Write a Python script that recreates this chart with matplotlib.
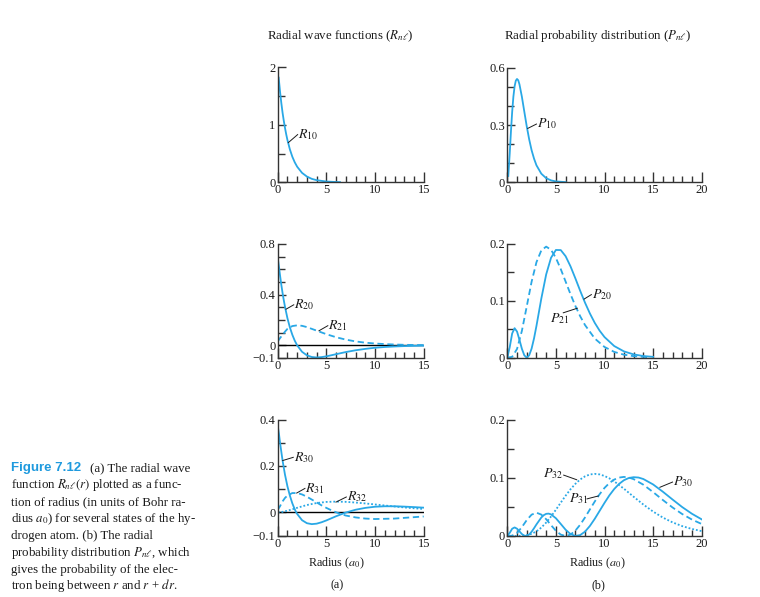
import matplotlib
matplotlib.use("Agg")
import matplotlib.pyplot as plt
from matplotlib.ticker import FixedLocator

plt.rcParams['font.family'] = ['Liberation Serif', 'DejaVu Serif']
plt.rcParams['mathtext.fontset'] = 'stix'

BLUE = '#29a8e6'
INK = '#1a1a1a'

# ---- data (radius in units of a0) ----
r10_r = [0.1, 0.25, 0.375, 0.5, 0.625, 0.75, 0.875, 1.0, 1.25, 1.5, 1.75, 2.0, 2.5, 3.0, 3.5, 4.0, 5.0, 6.0, 6.4]
r10_v = [1.82, 1.56, 1.375, 1.21, 1.07, 0.945, 0.834, 0.736, 0.573, 0.446, 0.348, 0.271, 0.164, 0.100, 0.060, 0.037, 0.013, 0.005, 0.003]

p10_r = [0.1, 0.25, 0.375, 0.5, 0.625, 0.75, 0.875, 1.0, 1.125, 1.25, 1.5, 1.75, 2.0, 2.25, 2.5, 2.75, 3.0, 3.5, 4.0, 4.5, 5.0, 6.0]
p10_v = [0.033, 0.152, 0.266, 0.368, 0.448, 0.502, 0.532, 0.541, 0.534, 0.513, 0.448, 0.370, 0.293, 0.225, 0.168, 0.124, 0.089, 0.045, 0.0215, 0.010, 0.0045, 0.001]

r20_r = [0.05, 0.125, 0.25, 0.375, 0.5, 0.625, 0.75, 1.0, 1.25, 1.5, 1.75, 2.0, 2.5, 3.0, 3.5, 4.0, 4.5, 5.0, 6.0, 7.0, 8.0, 9.0, 10.0, 11.0, 12.0, 13.0, 14.0, 15.0]
r20_v = [0.665, 0.623, 0.546, 0.476, 0.413, 0.356, 0.304, 0.214, 0.142, 0.084, 0.037, 0.0, -0.051, -0.079, -0.092, -0.096, -0.093, -0.087, -0.070, -0.053, -0.039, -0.028, -0.019, -0.013, -0.009, -0.006, -0.004, -0.0025]

r21_r = [0.0, 0.25, 0.5, 0.75, 1.0, 1.5, 2.0, 2.5, 3.0, 4.0, 5.0, 6.0, 7.0, 8.0, 9.0, 10.0, 11.0, 12.0, 13.0, 14.0, 15.0]
r21_v = [0.03, 0.058, 0.083, 0.108, 0.130, 0.152, 0.158, 0.154, 0.144, 0.116, 0.088, 0.064, 0.045, 0.031, 0.021, 0.0145, 0.0097, 0.0064, 0.0042, 0.0027, 0.0018]

p20_r = [0.0, 0.25, 0.5, 0.75, 1.0, 1.25, 1.5, 1.75, 2.0, 2.25, 2.5, 2.75, 3.0, 3.5, 4.0, 4.5, 5.0, 5.5, 6.0, 6.5, 7.0, 7.5, 8.0, 8.5, 9.0, 9.5, 10.0, 11.0, 12.0, 13.0, 14.0, 15.0]
p20_v = [0.0, 0.0186, 0.0426, 0.0519, 0.0460, 0.0315, 0.0157, 0.0042, 0.0, 0.0042, 0.0160, 0.034, 0.0560, 0.1040, 0.1465, 0.1758, 0.1895, 0.1893, 0.1785, 0.1608, 0.1397, 0.1176, 0.0966, 0.0777, 0.0612, 0.0475, 0.0363, 0.0205, 0.0111, 0.0058, 0.0029, 0.0015]

p21_r = [0.0, 0.5, 1.0, 1.5, 2.0, 2.5, 3.0, 3.5, 4.0, 4.5, 5.0, 5.5, 6.0, 6.5, 7.0, 7.5, 8.0, 9.0, 10.0, 11.0, 12.0, 13.0, 14.5]
p21_v = [0.0, 0.0016, 0.0153, 0.0471, 0.0902, 0.1336, 0.1680, 0.1888, 0.1954, 0.1898, 0.1755, 0.1558, 0.1339, 0.1118, 0.0912, 0.0729, 0.0573, 0.0337, 0.0189, 0.0102, 0.0053, 0.0027, 0.0009]

r30_r = [0.05, 0.125, 0.25, 0.5, 0.75, 1.0, 1.25, 1.5, 1.75, 1.9, 2.0, 2.5, 3.0, 3.5, 4.0, 4.5, 5.0, 5.5, 6.0, 6.5, 7.0, 7.5, 8.0, 9.0, 10.0, 11.0, 12.0, 13.0, 14.0, 15.0]
r30_v = [0.36, 0.339, 0.297, 0.223, 0.162, 0.112, 0.072, 0.039, 0.013, 0.0, -0.007, -0.034, -0.047, -0.051, -0.049, -0.043, -0.035, -0.026, -0.017, -0.009, -0.001, 0.005, 0.011, 0.019, 0.024, 0.026, 0.026, 0.0245, 0.0224, 0.020]

r31_r = [0.0, 0.25, 0.5, 0.75, 1.0, 1.5, 2.0, 2.5, 3.0, 3.5, 4.0, 4.5, 5.0, 5.5, 6.0, 6.5, 7.0, 8.0, 9.0, 10.0, 11.0, 12.0, 13.0, 14.0, 15.0]
r31_v = [0.01, 0.027, 0.047, 0.062, 0.072, 0.083, 0.083, 0.077, 0.067, 0.055, 0.0425, 0.030, 0.019, 0.009, 0.0, -0.0075, -0.014, -0.022, -0.027, -0.029, -0.028, -0.027, -0.024, -0.021, -0.018]

r32_r = [0.0, 0.5, 1.0, 1.5, 2.0, 3.0, 4.0, 5.0, 6.0, 7.0, 8.0, 9.0, 10.0, 11.0, 12.0, 13.0, 14.0, 15.0]
r32_v = [0.0, 0.002, 0.0068, 0.0129, 0.0194, 0.0314, 0.0399, 0.0447, 0.0461, 0.0450, 0.0421, 0.0382, 0.0338, 0.0293, 0.0250, 0.0210, 0.0174, 0.0144]

p30_r = [0.0, 0.25, 0.5, 0.75, 1.0, 1.25, 1.5, 1.75, 2.0, 2.25, 2.5, 2.75, 3.0, 3.5, 3.75, 4.0, 4.25, 4.5, 5.0, 5.5, 6.0, 6.5, 7.0, 7.5, 8.0, 8.5, 9.0, 9.5, 10.0, 10.5, 11.0, 11.5, 12.0, 12.5, 13.0, 13.5, 14.0, 15.0, 16.0, 17.0, 18.0, 19.0, 20.0]
p30_v = [0.0, 0.0055, 0.0125, 0.0148, 0.0126, 0.0080, 0.0034, 0.0005, 0.0002, 0.0026, 0.0073, 0.0134, 0.0200, 0.0319, 0.0359, 0.0382, 0.0386, 0.0373, 0.0306, 0.0208, 0.0108, 0.0034, 0.0001, 0.0016, 0.0076, 0.0174, 0.0297, 0.0434, 0.0571, 0.0700, 0.0810, 0.0898, 0.0962, 0.1000, 0.1014, 0.1008, 0.0982, 0.0889, 0.0764, 0.0629, 0.0498, 0.0383, 0.0287]

p31_r = [0.0, 0.5, 1.0, 1.5, 2.0, 2.5, 3.0, 3.5, 4.0, 4.5, 5.0, 5.5, 6.0, 6.5, 7.0, 7.5, 8.0, 8.5, 9.0, 9.5, 10.0, 10.5, 11.0, 11.5, 12.0, 12.5, 13.0, 14.0, 15.0, 16.0, 17.0, 18.0, 19.0, 20.0]
p31_v = [0.0, 0.0006, 0.0052, 0.0153, 0.0274, 0.0368, 0.0402, 0.0369, 0.0289, 0.0187, 0.0090, 0.0024, 0.0, 0.0024, 0.0092, 0.0195, 0.0321, 0.0459, 0.0595, 0.0721, 0.0829, 0.0913, 0.0973, 0.1007, 0.1019, 0.1008, 0.0980, 0.0884, 0.0757, 0.0621, 0.0492, 0.0378, 0.0283, 0.0207]

p32_r = [0.0, 1.0, 2.0, 2.5, 3.0, 3.5, 4.0, 4.5, 5.0, 5.5, 6.0, 6.5, 7.0, 7.5, 8.0, 8.5, 9.0, 9.5, 10.0, 10.5, 11.0, 12.0, 13.0, 14.0, 15.0, 16.0, 17.0, 18.0, 19.0, 20.0]
p32_v = [0.0, 0.0, 0.0014, 0.0038, 0.0080, 0.0145, 0.0232, 0.0336, 0.0453, 0.0575, 0.0695, 0.0805, 0.0899, 0.0975, 0.1029, 0.1061, 0.1071, 0.1062, 0.1035, 0.0994, 0.0942, 0.0815, 0.0676, 0.0542, 0.0421, 0.0318, 0.0235, 0.0170, 0.0121, 0.0084]

# tick labels per panel
ticks_r1a = ([0, 1, 2], ['0', '1', '2'], [0.5, 1.5])
ticks_r1b = ([0, 0.3, 0.6], ['0', '0.3', '0.6'], [0.1, 0.2, 0.4, 0.5])
ticks_r2a = ([-0.1, 0, 0.4, 0.8], ['\u22120.1', '0', '0.4', '0.8'], [0.1, 0.2, 0.3, 0.5, 0.6, 0.7])
ticks_r2b = ([0, 0.1, 0.2], ['0', '0.1', '0.2'], [0.05, 0.15])
ticks_r3a = ([-0.1, 0, 0.2, 0.4], ['\u22120.1', '0', '0.2', '0.4'], [0.1, 0.3])
ticks_r3b = ([0, 0.1, 0.2], ['0', '0.1', '0.2'], [0.05, 0.15])

W, H = 760, 597
fig = plt.figure(figsize=(W / 100, H / 100), dpi=100)


def px_axes(x0, x1, ytop, ybot):
    return fig.add_axes([x0 / W, 1 - ybot / H, (x1 - x0) / W, (ybot - ytop) / H])


def style(ax, xmax, ylim, ticks):
    major, labels, minor = ticks
    ax.set_xlim(0, xmax)
    ax.set_ylim(*ylim)
    for s in ('top', 'right'):
        ax.spines[s].set_visible(False)
    for s in ('left', 'bottom'):
        ax.spines[s].set_linewidth(1.0)
        ax.spines[s].set_color('#333333')
    ax.set_xticks(list(range(0, xmax + 1, 5)))
    ax.set_xticklabels([str(v) for v in range(0, xmax + 1, 5)])
    ax.xaxis.set_minor_locator(FixedLocator(list(range(0, xmax + 1))))
    ax.set_yticks(major)
    ax.set_yticklabels(labels)
    ax.yaxis.set_minor_locator(FixedLocator(minor))
    ax.tick_params(which='both', direction='in', colors='#333333', width=1.0,
                   labelsize=9, labelcolor=INK)
    ax.tick_params(axis='x', which='major', length=7.5, pad=1.5)
    ax.tick_params(axis='x', which='minor', length=4.5)
    ax.tick_params(axis='y', which='major', length=6, pad=1.5)
    ax.tick_params(axis='y', which='minor', length=5)
    ax.patch.set_alpha(0)


def tag(ax, text, xy, xytext, ha='left'):
    ax.plot([xy[0], xytext[0]], [xy[1], xytext[1]], color=INK, lw=0.7)
    ax.text(xytext[0] + (0.05 if ha == 'left' else -0.05) * ax.get_xlim()[1] / 15,
            xytext[1], text, ha=ha, va='center', fontsize=10, color=INK)


DASH = (0, (3.5, 2))
DOT = (0, (1, 1.1))
LW = 1.3

AX0, AX1 = 277.7, 423.7
BX0, BX1 = 507.3, 701.7

# row 1
ax = px_axes(AX0, AX1, 67.3, 182.3)
style(ax, 15, (0, 2), ticks_r1a)
ax.plot(r10_r, r10_v, color=BLUE, lw=LW)
tag(ax, '$R_{10}$', (1.09, 0.69), (2.05, 0.83))

ax = px_axes(BX0, BX1, 67.7, 182.3)
style(ax, 20, (0, 0.6), ticks_r1b)
ax.plot(p10_r, p10_v, color=BLUE, lw=LW)
tag(ax, '$P_{10}$', (2.1, 0.282), (3.0, 0.305))

# row 2
ax = px_axes(AX0, AX1, 244, 358)
style(ax, 15, (-0.1, 0.8), ticks_r2a)
ax.plot([0, 15], [0, 0], color='black', lw=1.0)
ax.plot(r20_r, r20_v, color=BLUE, lw=LW)
ax.plot(r21_r, r21_v, color=BLUE, lw=LW, ls=DASH)
tag(ax, '$R_{20}$', (0.85, 0.285), (1.65, 0.32))
tag(ax, '$R_{21}$', (4.24, 0.115), (5.15, 0.155))

ax = px_axes(BX0, BX1, 244, 357.7)
style(ax, 20, (0, 0.2), ticks_r2b)
ax.plot(p20_r, p20_v, color=BLUE, lw=LW)
ax.plot(p21_r, p21_v, color=BLUE, lw=LW, ls=DASH)
tag(ax, '$P_{20}$', (7.89, 0.103), (8.65, 0.111))
ax.plot([5.76, 7.2], [0.079, 0.087], color=INK, lw=0.7)
ax.text(4.4, 0.069, '$P_{21}$', ha='left', va='center', fontsize=10, color=INK)

# row 3
ax = px_axes(AX0, AX1, 419.5, 535.5)
style(ax, 15, (-0.1, 0.4), ticks_r3a)
ax.plot([0, 15], [0, 0], color='black', lw=1.0)
ax.plot(r30_r, r30_v, color=BLUE, lw=LW)
ax.plot(r31_r, r31_v, color=BLUE, lw=LW, ls=DASH)
ax.plot(r32_r, r32_v, color=BLUE, lw=LW, ls=DOT)
tag(ax, '$R_{30}$', (0.51, 0.223), (1.6, 0.237))
tag(ax, '$R_{31}$', (1.95, 0.083), (2.8, 0.103))
tag(ax, '$R_{32}$', (5.99, 0.044), (7.05, 0.066))

ax = px_axes(BX0, BX1, 420, 536)
style(ax, 20, (0, 0.2), ticks_r3b)
ax.plot(p30_r, p30_v, color=BLUE, lw=LW)
ax.plot(p31_r, p31_v, color=BLUE, lw=LW, ls=DASH)
ax.plot(p32_r, p32_v, color=BLUE, lw=LW, ls=DOT)
tag(ax, '$P_{30}$', (15.7, 0.084), (17.0, 0.093))
ax.plot([5.8, 7.14], [0.105, 0.097], color=INK, lw=0.7)
ax.text(5.75, 0.108, '$P_{32}$', ha='right', va='center', fontsize=10, color=INK)
ax.plot([8.2, 9.36], [0.064, 0.069], color=INK, lw=0.7)
ax.text(6.3, 0.064, '$P_{31}$', ha='left', va='center', fontsize=10, color=INK)

# column titles and axis labels
fig.text(340.5 / W, 1 - 36 / H, r'Radial wave functions ($R_{n\ell}$)',
         ha='center', va='center', fontsize=9.3, color=INK)
fig.text(598 / W, 1 - 36 / H, r'Radial probability distribution ($P_{n\ell}$)',
         ha='center', va='center', fontsize=9.3, color=INK)
for cx, sub in ((337, '(a)'), (598, '(b)')):
    fig.text(cx / W, 1 - 563 / H, r'Radius ($a_0$)', ha='center', va='center',
             fontsize=8.7, color=INK)
    fig.text(cx / W, 1 - 585 / H, sub, ha='center', va='center',
             fontsize=8.7, color=INK)

# caption
caption = [
    r'function $R_{n\ell}(r)$ plotted as a func-',
    'tion of radius (in units of Bohr ra-',
    r'dius $a_0$) for several states of the hy-',
    'drogen atom. (b) The radial',
    r'probability distribution $P_{n\ell}$, which',
    'gives the probability of the elec-',
    r'tron being between $r$ and $r$ + $dr$.',
]
fig.text(11 / W, 1 - 471 / H, 'Figure 7.12', ha='left', va='baseline',
         fontsize=9.5, fontweight='bold', color='#1f9ade',
         family=['Liberation Sans', 'DejaVu Sans'])
fig.text(90.5 / W, 1 - 471 / H, '(a) The radial wave', ha='left', va='baseline',
         fontsize=9.3, color=INK)
for i, line in enumerate(caption):
    fig.text(11 / W, 1 - (488 + 16.9 * i) / H, line, ha='left', va='baseline',
             fontsize=9.3, color=INK)

fig.savefig('out.png', dpi=100)
